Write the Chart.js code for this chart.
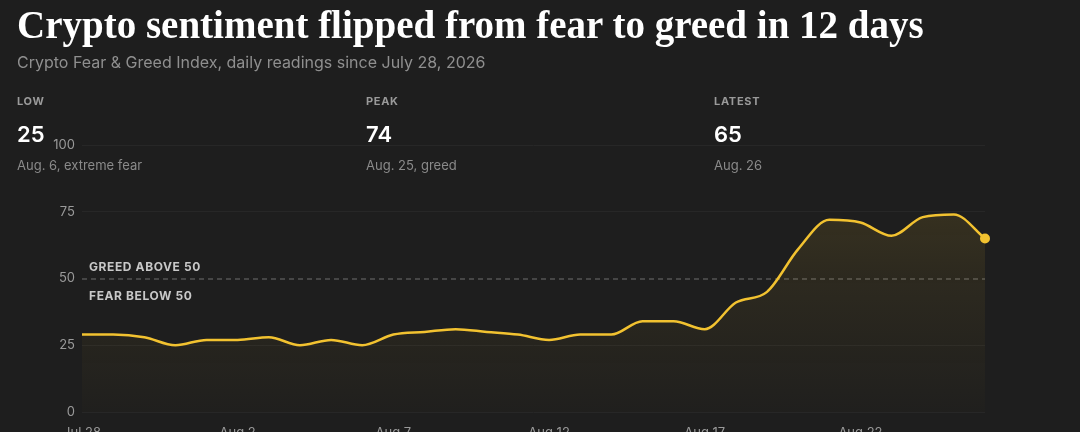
<!DOCTYPE html>
<html>
<head>
<meta charset="utf-8">
<script src="https://cdn.jsdelivr.net/npm/chart.js@4.4.1/dist/chart.umd.min.js"></script>
<style>
  html, body { margin:0; padding:0; background:#1e1e1e; width:1080px; height:432px; overflow:hidden; }
  body { position:relative; font-family: Inter, "Noto Sans", sans-serif; }
  #wrap { position:absolute; left:0; top:0; width:1080px; height:460px; }
  .t { position:absolute; white-space:nowrap; }
  #title { left:17px; top:2px; font-family:"Liberation Serif", "DejaVu Serif", serif; font-weight:700; font-size:39px; line-height:46px; color:#fff; letter-spacing:0px; }
  #sub { left:17px; top:51px; font-size:16px; line-height:22px; color:#8f8f8f; }
  .lab { font-size:11px; font-weight:700; letter-spacing:0.7px; color:#9a9a9a; top:94px; line-height:14px; }
  .val { font-size:22px; font-weight:600; color:#fff; top:121px; line-height:26px; }
  .note { font-size:13px; color:#8a8a8a; top:157px; line-height:17px; }
</style>
</head>
<body>
<div id="wrap"><canvas id="c"></canvas></div>
<div class="t" id="title">Crypto sentiment flipped from fear to greed in 12 days</div>
<div class="t" id="sub">Crypto Fear &amp; Greed Index, daily readings since July 28, 2026</div>
<div id="stats"></div>
<script>
const dates = ["Jul 28","Jul 29","Jul 30","Jul 31","Aug 1","Aug 2","Aug 3","Aug 4","Aug 5","Aug 6",
  "Aug 7","Aug 8","Aug 9","Aug 10","Aug 11","Aug 12","Aug 13","Aug 14","Aug 15","Aug 16",
  "Aug 17","Aug 18","Aug 19","Aug 20","Aug 21","Aug 22","Aug 23","Aug 24","Aug 25","Aug 26"];
const fearGreed = [29,29,28,25,27,27,28,25,27,25,
  29,30,31,30,29,27,29,29,34,34,
  31,41,45,61,72,71,66,73,74,65];
const yTicks = [0,25,50,75,100];
const statLabels = ["LOW","PEAK","LATEST"];
const statValues = ["25","74","65"];
const statNotes = ["Aug. 6, extreme fear","Aug. 25, greed","Aug. 26"];
const statX = [17,366,714];
const thresholdValue = 50;
const thresholdAbove = "GREED ABOVE 50";
const thresholdBelow = "FEAR BELOW 50";

const stats = document.getElementById('stats');
statLabels.forEach((l,i)=>{
  const a=document.createElement('div'); a.className='t lab'; a.style.left=statX[i]+'px'; a.textContent=l; stats.appendChild(a);
  const b=document.createElement('div'); b.className='t val'; b.style.left=statX[i]+'px'; b.textContent=statValues[i]; stats.appendChild(b);
  const c=document.createElement('div'); c.className='t note'; c.style.left=statX[i]+'px'; c.textContent=statNotes[i]; stats.appendChild(c);
});

const LINE = '#f2c230';

const thresholdPlugin = {
  id:'threshold',
  beforeDatasetsDraw(chart){
    const {ctx, chartArea, scales:{y}} = chart;
    const py = y.getPixelForValue(thresholdValue);
    ctx.save();
    ctx.strokeStyle = '#6e6e6e';
    ctx.lineWidth = 1;
    ctx.setLineDash([5,4]);
    ctx.beginPath(); ctx.moveTo(chartArea.left, py+0.5); ctx.lineTo(chartArea.right, py+0.5); ctx.stroke();
    ctx.setLineDash([]);
    ctx.fillStyle = '#c8c8c8';
    ctx.font = '700 12px Inter, "Noto Sans", sans-serif';
    if (ctx.letterSpacing !== undefined) ctx.letterSpacing = '0.6px';
    ctx.textBaseline = 'middle';
    ctx.textAlign = 'left';
    ctx.fillText(thresholdAbove, chartArea.left + 7, py - 11);
    ctx.fillText(thresholdBelow, chartArea.left + 7, py + 18);
    ctx.restore();
  }
};

new Chart(document.getElementById('c'), {
  type:'line',
  data:{
    labels: dates,
    datasets:[{
      data: fearGreed,
      borderColor: LINE,
      borderWidth: 2.5,
      cubicInterpolationMode:'monotone',
      fill:'origin',
      backgroundColor(ctx){
        const ca = ctx.chart.chartArea;
        if(!ca) return 'rgba(242,194,48,0.08)';
        const g = ctx.chart.ctx.createLinearGradient(0, ca.top, 0, ca.bottom);
        g.addColorStop(0, 'rgba(242,194,48,0.16)');
        g.addColorStop(0.5, 'rgba(242,194,48,0.07)');
        g.addColorStop(1, 'rgba(242,194,48,0.01)');
        return g;
      },
      pointRadius(ctx){ return ctx.dataIndex === fearGreed.length-1 ? 5 : 0; },
      pointBackgroundColor: LINE,
      pointBorderWidth: 0,
      pointHoverRadius: 0
    }]
  },
  options:{
    responsive:true, maintainAspectRatio:false, animation:false,
    layout:{ padding:{ top:145, right:95, left:0, bottom:0 } },
    plugins:{ legend:{display:false}, tooltip:{enabled:false} },
    scales:{
      x:{
        grid:{ display:false },
        border:{ display:false },
        ticks:{
          autoSkip:false, maxRotation:0, color:'#9a9a9a', padding:5,
          font:{ family:'Inter', size:13 },
          callback(v,i){ return i % 5 === 0 ? dates[i] : ''; }
        },
        afterFit(s){ s.height = 48; }
      },
      y:{
        min:0, max:100,
        afterBuildTicks(s){ s.ticks = yTicks.map(v=>({value:v})); },
        grid:{ color(ctx){ return ctx.tick && ctx.tick.value === thresholdValue ? 'rgba(0,0,0,0)' : '#272727'; }, drawTicks:false, lineWidth:1 },
        border:{ display:false },
        ticks:{ color:'#9a9a9a', padding:7, font:{ family:'Inter', size:13 } },
        afterFit(s){ s.width = 82; }
      }
    }
  },
  plugins:[thresholdPlugin]
});
</script>
</body>
</html>
